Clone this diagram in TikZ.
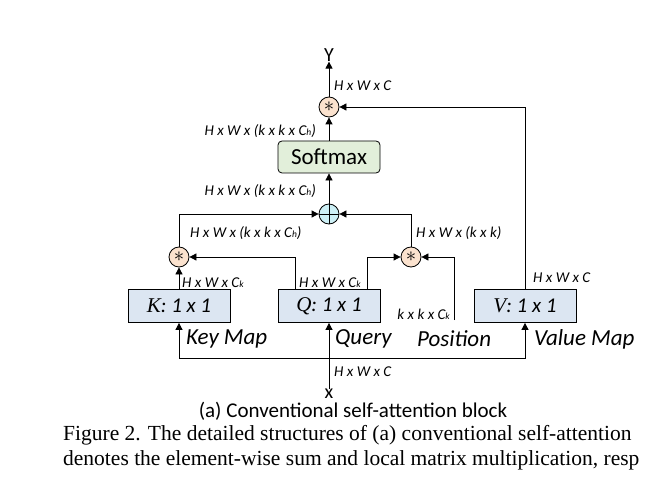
\documentclass[tikz,border=0pt]{standalone}
\usepackage{fontspec}
\setmainfont{Carlito}
\newfontfamily\serif{Liberation Serif}
\usetikzlibrary{arrows.meta}
\definecolor{boxblue}{RGB}{220,230,242}
\definecolor{softgreen}{RGB}{226,239,218}
\definecolor{peach}{RGB}{251,226,206}
\definecolor{cyanish}{RGB}{205,240,246}
\newcommand{\sk}[1]{{\fontsize{9.5}{9.5}\selectfont #1}}
\begin{document}
\begin{tikzpicture}[x=1pt,y=-1pt,
  conv/.style={draw, thick, fill=boxblue, minimum width=102pt, minimum height=33pt, inner sep=0pt, font=\fontsize{21}{21}\selectfont\itshape},
  mult/.style={circle, draw, thick, fill=peach, minimum size=20pt, inner sep=0pt, font=\fontsize{20}{20}\selectfont},
  dim/.style={font=\fontsize{15}{15}\selectfont\itshape, inner sep=0pt},
  lab/.style={font=\fontsize{23}{23}\selectfont\itshape, inner sep=0pt, anchor=west},
  arr/.style={thick, -{Triangle[length=7pt,width=7pt]}},
  ln/.style={thick}]
\useasboundingbox (0,0) rectangle (648,492);

% nodes
\node[conv] (K) at (179,306) {{\serif K}:~1 x 1};
\node[conv] (Q) at (329,306) {{\serif Q}:~1 x 1};
\node[conv] (V) at (525,306) {{\serif V}:~1 x 1};
\node[draw, thick, rounded corners=4pt, fill=softgreen, minimum width=102pt, minimum height=32pt, font=\fontsize{23}{23}\selectfont] (S) at (329,157) {Softmax};
\node[mult] (m1) at (179,257) {$\ast$};
\node[mult] (m2) at (411,257) {$\ast$};
\node[mult] (m3) at (329,107) {$\ast$};
\node[circle, draw, thick, fill=cyanish, minimum size=20pt, inner sep=0pt] (p) at (329,214) {};
\draw[ln] (p.north) -- (p.south) (p.west) -- (p.east);
\node[inner sep=0pt, font=\fontsize{20}{20}\selectfont] (Y) at (329,55) {Y};
\node[inner sep=0pt, font=\fontsize{20}{20}\selectfont] (X) at (329,394) {x};
\coordinate (pos) at (454,320);
\coordinate (bus) at (329,358);

% connectors
\draw[arr] (X.north) -- (Q.south);
\draw[arr] (bus) -| (K.south);
\draw[arr] (bus) -| (V.south);
\draw[arr] (K.north) -- (m1);
\draw[arr] (Q.north -| 295,0) |- (m1);
\draw[arr] (Q.north -| 367,0) |- (m2);
\draw[arr] (pos) |- (m2);
\draw[arr] (m1) |- (p);
\draw[arr] (m2) |- (p);
\draw[arr] (p) -- (S);
\draw[arr] (S) -- (m3);
\draw[arr] (V.north) |- (m3);
\draw[arr] (m3) -- (Y);

% dimension labels
\node[dim, anchor=west] at (334,86) {H x W x C};
\node[dim, anchor=east] at (316,131) {H x W x (k x k x C\sk{h})};
\node[dim, anchor=east] at (316,191) {H x W x (k x k x C\sk{h})};
\node[dim, anchor=west] at (190,233) {H x W x (k x k x C\sk{h})};
\node[dim, anchor=west] at (416,233) {H x W x (k x k)};
\node[dim, anchor=west] at (182,283) {H x W x C\sk{k}};
\node[dim, anchor=west] at (299,283) {H x W x C\sk{k}};
\node[dim, anchor=west] at (533,278) {H x W x C};
\node[dim, anchor=east] at (450,314) {k x k x C\sk{k}};
\node[dim, anchor=west] at (334,372) {H x W x C};

\node[lab] at (186,339) {Key Map};
\node[lab] at (335,339) {Query};
\node[lab] at (417,339) {Position};
\node[lab] at (534,339) {Value Map};

% captions
\node[inner sep=0pt, font=\fontsize{21}{21}\selectfont] at (353,411) {(a) Conventional self-attention block};
\node[inner sep=0pt, anchor=west, font=\serif\fontsize{21.5}{21.5}\selectfont] at (63,435) {Figure 2. The detailed structures of (a) conventional self-attention};
\node[inner sep=0pt, anchor=west, font=\serif\fontsize{21.5}{21.5}\selectfont] at (63,460) {denotes the element-wise sum and local matrix multiplication, resp};
\end{tikzpicture}
\end{document}
